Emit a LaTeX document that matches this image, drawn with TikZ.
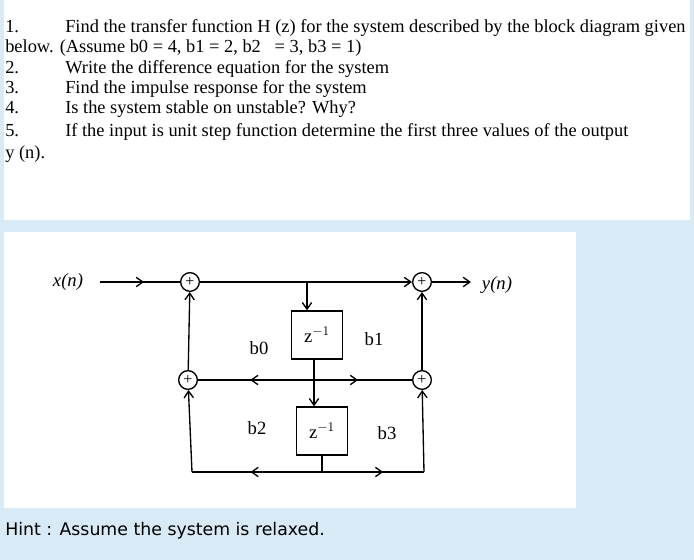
\documentclass[tikz,border=0pt]{standalone}
\usepackage{fontspec}
\setmainfont{Liberation Serif}
\newfontfamily\hintfont{DejaVu Sans}
\usetikzlibrary{arrows.meta,decorations.markings}
\definecolor{bgblue}{HTML}{D7EAF5}
\tikzset{
  sumnode/.style={draw,circle,line width=1pt,minimum size=14pt,inner sep=0pt,font=\fontsize{12}{12}\selectfont},
  delay/.style={draw,line width=1pt,minimum width=38pt,minimum height=36pt,inner sep=0pt,font=\fontsize{14}{14}\selectfont},
  wire/.style={line width=1pt},
  arr/.style={wire,-{Straight Barb[length=5pt,width=7pt]}},
  midl/.style={wire,decoration={markings,mark=at position #1 with {\arrow{Straight Barb[length=5pt,width=7pt]}}},postaction=decorate},
  qtext/.style={anchor=base west,inner sep=0pt,font=\fontsize{13.8}{15}\selectfont},
  lab/.style={font=\fontsize{14}{14}\selectfont,inner sep=0pt}
}
\begin{document}
\begin{tikzpicture}[x=0.75pt,y=-0.75pt]
\useasboundingbox (0,0) rectangle (694,560);
\fill[bgblue] (0,0) rectangle (694,560);
\fill[white] (4,0) rectangle (690,220);
\fill[white] (4,232) rectangle (576,508);
% question text
\node[qtext] (q1n) at (5,33) {1.};
\node[qtext] (q1) at (65,33) {Find the transfer function H (z) for the system described by the block diagram given};
\node[qtext] (q1b) at (5,53) {below. (Assume b0 = 4, b1 = 2, b2 \ \ = 3, b3 = 1)};
\node[qtext] (q2n) at (5,74) {2.};
\node[qtext] (q2) at (65,74) {Write the difference equation for the system};
\node[qtext] (q3n) at (5,94) {3.};
\node[qtext] (q3) at (65,94) {Find the impulse response for the system};
\node[qtext] (q4n) at (5,114) {4.};
\node[qtext] (q4) at (65,114) {Is the system stable on unstable? Why?};
\node[qtext] (q5n) at (5,137) {5.};
\node[qtext] (q5) at (65,137) {If the input is unit step function determine the first three values of the output};
\node[qtext] (q6) at (5,159) {y (n).};
% diagram
\node[sumnode] (s1) at (190,282) {+};
\node[sumnode] (s2) at (422,282) {+};
\node[sumnode] (s3) at (188,380) {+};
\node[sumnode] (s4) at (422,380) {+};
\node[delay] (d1) at (317,335) {z$^{-1}$};
\node[delay] (d2) at (322,431) {z$^{-1}$};
\node[lab] (xn) at (68,282) {\itshape x(n)};
\node[lab] (yn) at (497,285) {\itshape y(n)};
\coordinate (xs) at (100,282);
\coordinate (ye) at (471,282);
\coordinate (t1) at (307,282);
\coordinate (m1) at (314,380);
\coordinate (bl) at (192,472);
\coordinate (br) at (424,472);
\coordinate (bm) at (322,472);
\draw[midl=0.55] (xs) -- (s1);
\draw[arr] (s1) -- (s2);
\draw[arr] (s2) -- (ye);
\draw[arr] (t1) -- (d1.north -| t1);
\draw[wire] (d1.south -| m1) -- (m1);
\draw[arr] (m1) -- (d2.north -| m1);
\draw[midl=0.55] (m1) -- (s3);
\draw[midl=0.45] (m1) -- (s4);
\draw[arr] (s3) -- (s1);
\draw[arr] (s4) -- (s2);
\draw[wire] (d2.south) -- (bm);
\draw[midl=0.55] (bm) -- (bl);
\draw[arr] (bl) -- (s3);
\draw[midl=0.6] (bm) -- (br);
\draw[arr] (br) -- (s4);
\node[lab] (b0) at (259,348) {b0};
\node[lab] (b1) at (374,339) {b1};
\node[lab] (b2) at (257,428) {b2};
\node[lab] (b3) at (387,433) {b3};
\node[anchor=base west,inner sep=0pt,font=\hintfont\fontsize{13}{15}\selectfont] (hint) at (5,535) {Hint : Assume the system is relaxed.};
\end{tikzpicture}
\end{document}
